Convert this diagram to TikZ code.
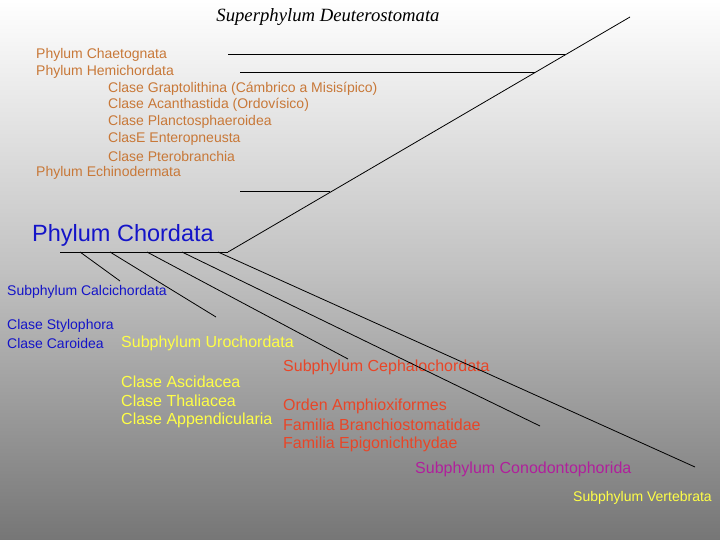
\documentclass[tikz,border=0pt]{standalone}
\usepackage{fontspec}
\setmainfont{Liberation Sans}
\newfontfamily\titlefont{Liberation Serif}
\definecolor{corange}{RGB}{200,120,56}
\definecolor{cblue}{RGB}{20,20,200}
\definecolor{cyellow}{RGB}{255,255,70}
\definecolor{cred}{RGB}{232,70,40}
\definecolor{cpurple}{RGB}{176,32,156}
\definecolor{bgbot}{RGB}{118,118,118}
\begin{document}
\begin{tikzpicture}[x=1pt,y=-1pt,
  lbl/.style={anchor=west,inner sep=0pt,font=\fontsize{14}{14}\selectfont},
  big/.style={anchor=west,inner sep=0pt,font=\fontsize{16}{16}\selectfont},
  ln/.style={draw=black,line width=0.8pt}]
\shade[top color=white,bottom color=bgbot,middle color=white!55!bgbot] (0,0) rectangle (720,540);
\useasboundingbox (0,0) rectangle (720,540);
\node[inner sep=0pt,font=\titlefont\itshape\fontsize{18.7}{18.7}\selectfont] (title) at (328,17) {Superphylum Deuterostomata};
\foreach \n/\x/\y/\t in {a/36/55/Phylum Chaetognata,b/36/72/Phylum Hemichordata,
  c/108/89/Clase Graptolithina (Cámbrico a Misisípico),d/108/105/Clase Acanthastida (Ordovísico),
  e/108/122/Clase Planctosphaeroidea,f/108/139/ClasE Enteropneusta,g/108/156/Clase Pterobranchia,
  h/36/173/Phylum Echinodermata}
  \node[lbl,text=corange] (\n) at (\x,\y) {\t};
\node[anchor=west,inner sep=0pt,text=cblue,font=\fontsize{23.5}{23.5}\selectfont] (chord) at (32,235) {Phylum Chordata};
\node[lbl,text=cblue] (calc) at (7,292) {Subphylum Calcichordata};
\node[lbl,text=cblue] (sty) at (7,326) {Clase Stylophora};
\node[lbl,text=cblue] (car) at (7,343) {Clase Caroidea};
\node[big,text=cyellow] (uro) at (121,343) {Subphylum Urochordata};
\node[big,text=cyellow] (asc) at (121,382) {Clase Ascidacea};
\node[big,text=cyellow] (tha) at (121,401) {Clase Thaliacea};
\node[big,text=cyellow] (app) at (121,420) {Clase Appendicularia};
\node[big,text=cred] (ceph) at (283,367) {Subphylum Cephalochordata};
\node[big,text=cred] (amp) at (283,406) {Orden Amphioxiformes};
\node[big,text=cred] (bra) at (283,425) {Familia Branchiostomatidae};
\node[big,text=cred] (epi) at (283,444) {Familia Epigonichthydae};
\node[big,text=cpurple] (cono) at (415,469) {Subphylum Conodontophorida};
\node[lbl,text=cyellow] (vert) at (573,498) {Subphylum Vertebrata};
% tree coordinates
\coordinate (top) at (630,17);
\coordinate (root) at (228,252);
\coordinate (barl) at (60,252);
\coordinate (j1) at (565,54); \coordinate (s1) at (228,54);
\coordinate (j2) at (535,72); \coordinate (s2) at (240,72);
\coordinate (j3) at (330,191); \coordinate (s3) at (240,191);
\draw[ln] (root) -- (top);
\draw[ln] (s1) -- (j1);
\draw[ln] (s2) -- (j2);
\draw[ln] (s3) -- (j3);
\draw[ln] (barl) -- (root);
\coordinate (b1) at (80,252); \coordinate (e1) at (120,281);
\coordinate (b2) at (110,252); \coordinate (e2) at (216,317);
\coordinate (b3) at (147,252); \coordinate (e3) at (348,359);
\coordinate (b4) at (182,252); \coordinate (e4) at (540,426);
\coordinate (b5) at (218,252); \coordinate (e5) at (695,467);
\foreach \i in {1,...,5} \draw[ln] (b\i) -- (e\i);
\end{tikzpicture}
\end{document}
